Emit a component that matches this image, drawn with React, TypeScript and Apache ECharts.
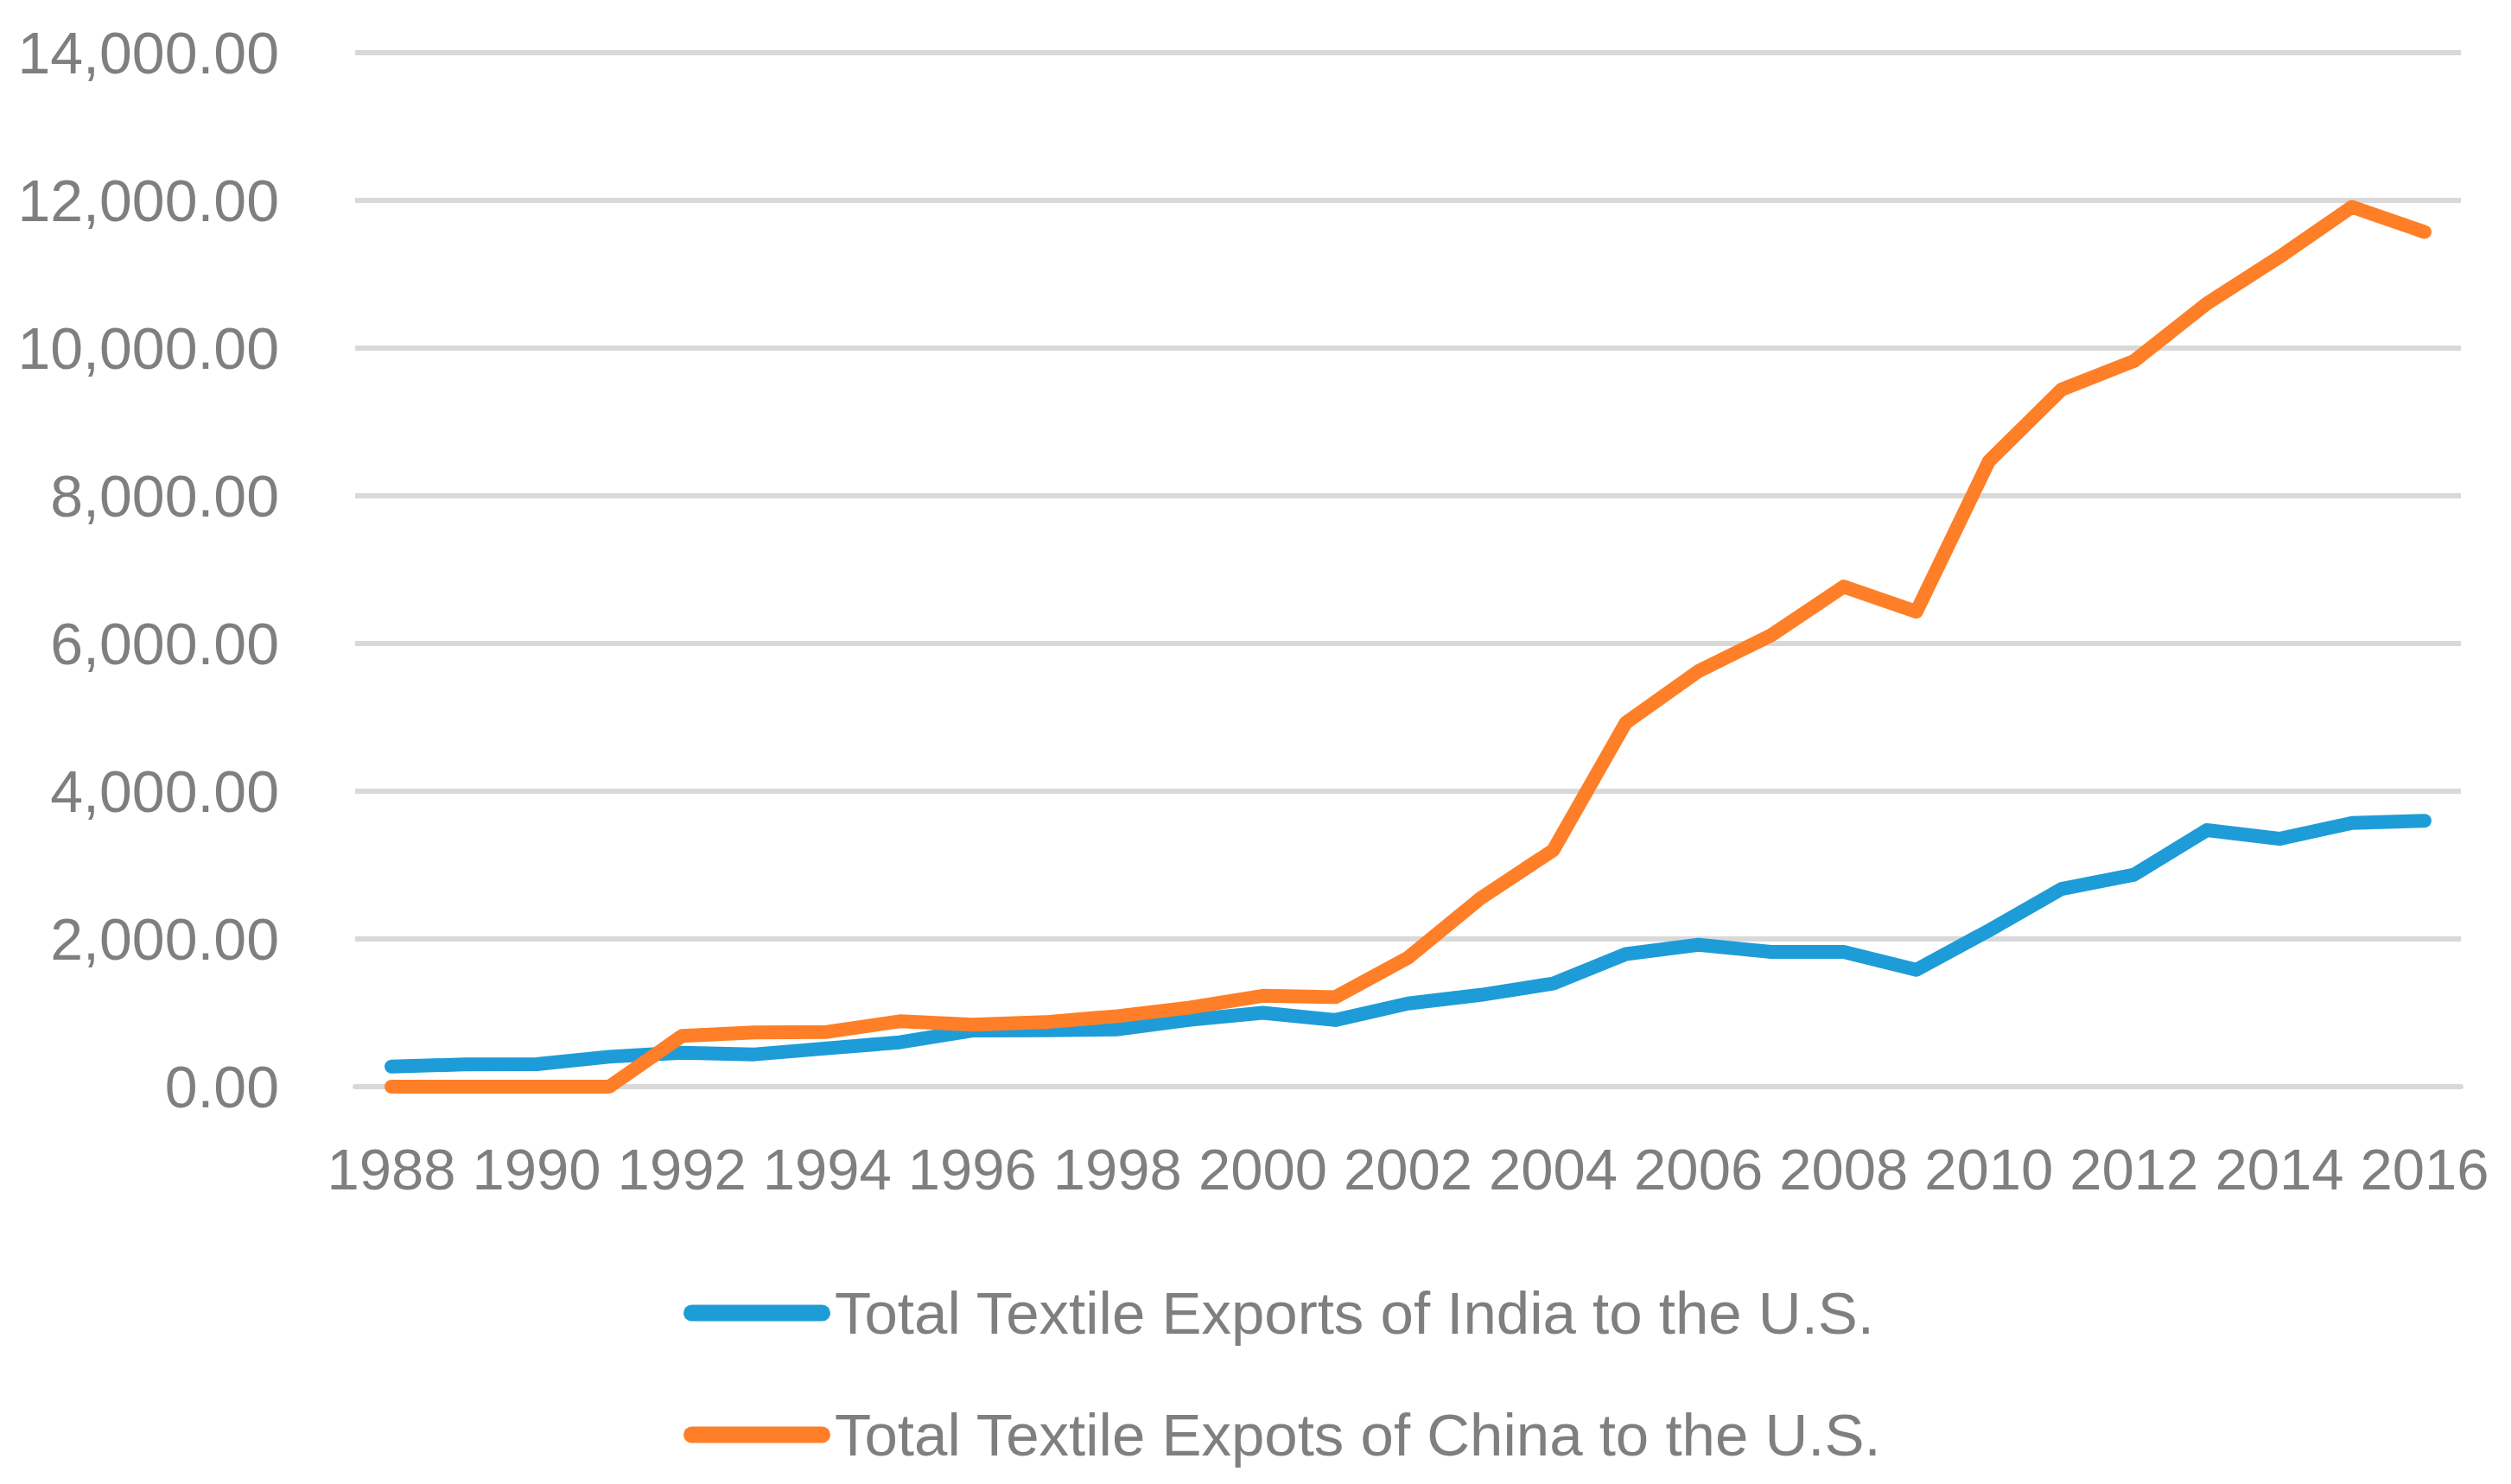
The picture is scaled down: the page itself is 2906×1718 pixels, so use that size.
import React, { useEffect, useRef } from 'react';
import * as echarts from 'echarts';

const years = [
  '1988', '1989', '1990', '1991', '1992', '1993', '1994', '1995', '1996', '1997',
  '1998', '1999', '2000', '2001', '2002', '2003', '2004', '2005', '2006', '2007',
  '2008', '2009', '2010', '2011', '2012', '2013', '2014', '2015', '2016',
];

const india = [
  273, 300, 304, 405, 460, 437, 519, 600, 760, 764,
  776, 905, 1000, 902, 1125, 1242, 1397, 1795, 1921, 1824,
  1824, 1581, 2115, 2677, 2871, 3473, 3356, 3570, 3600,
];

const china = [
  0, 0, 0, 0, 686, 733, 741, 885, 838, 873,
  955, 1072, 1230, 1212, 1746, 2551, 3201, 4928, 5626, 6111,
  6771, 6431, 8468, 9438, 9826, 10602, 11233, 11912, 11572,
];

const seriesNames = [
  'Total Textile Exports of India to the U.S.',
  'Total Textile Expots of China to the U.S.',
];

const colors = ['#1e9cd8', '#fe7f27'];

const FONT = '"Liberation Sans", Arial, sans-serif';
const GREY = '#7f7f7f';

const App: React.FC = () => {
  const chartRef = useRef<HTMLDivElement>(null);

  useEffect(() => {
    if (!chartRef.current) return;
    const chart = echarts.init(chartRef.current, null, { renderer: 'svg' });

    const option = {
      animation: false,
      grid: { left: 411, right: 58, top: 61, bottom: 460 },
      legend: {
        orient: 'vertical',
        left: 786,
        top: 1480,
        itemWidth: 170,
        itemHeight: 19,
        itemGap: 71,
        icon: 'path://M9.5,0 H160.5 A9.5,9.5 0 0 1 160.5,19 H9.5 A9.5,9.5 0 0 1 9.5,0 Z',
        textStyle: {
          color: GREY,
          fontFamily: FONT,
          fontSize: 69,
          lineHeight: 70,
          padding: [0, 0, 0, 0],
        },
        data: seriesNames,
      },
      xAxis: {
        type: 'category',
        data: years,
        boundaryGap: true,
        axisLine: { lineStyle: { color: '#d9d9d9', width: 6 } },
        axisTick: { show: false },
        axisLabel: {
          interval: 1,
          color: GREY,
          fontFamily: FONT,
          fontSize: 67,
          margin: 62,
        },
      },
      yAxis: {
        type: 'value',
        min: 0,
        max: 14000,
        interval: 2000,
        axisLine: { show: false },
        axisTick: { show: false },
        splitLine: { lineStyle: { color: '#d9d9d9', width: 6 } },
        axisLabel: {
          color: GREY,
          fontFamily: FONT,
          fontSize: 68,
          margin: 88,
          formatter: (v: number) =>
            v.toLocaleString('en-US', { minimumFractionDigits: 2, maximumFractionDigits: 2 }),
        },
      },
      series: [
        {
          name: seriesNames[0],
          type: 'line',
          data: india,
          showSymbol: false,
          symbol: 'none',
          color: colors[0],
          lineStyle: { color: colors[0], width: 16, cap: 'round', join: 'round' },
        },
        {
          name: seriesNames[1],
          type: 'line',
          data: china,
          showSymbol: false,
          symbol: 'none',
          color: colors[1],
          lineStyle: { color: colors[1], width: 16, cap: 'round', join: 'round' },
        },
      ],
    };

    chart.setOption(option);

    return () => {
      chart.dispose();
    };
  }, []);

  return (
    <div
      ref={chartRef}
      style={{ position: 'absolute', left: 0, top: 0, width: '2906px', height: '1718px', background: '#fff' }}
    />
  );
};

export default App;
